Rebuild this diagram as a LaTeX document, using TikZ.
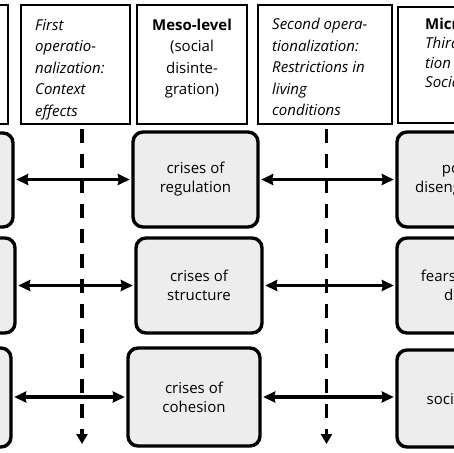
\documentclass[tikz,border=0pt]{standalone}
\usepackage{fontspec}
\setmainfont{Open Sans}
\usetikzlibrary{arrows.meta}
\newcommand{\headfont}{\fontsize{15}{21.5}\selectfont}
\newcommand{\microfont}{\fontsize{15}{19.5}\selectfont}
\newcommand{\rowfont}{\fontsize{15}{19}\selectfont}
\begin{document}
\begin{tikzpicture}[x=1pt,y=-1pt,
  hbox/.style={draw, line width=1.4pt, inner sep=0pt},
  rbox/.style={draw, line width=3.4pt, rounded corners=10pt, fill=black!7, inner sep=0pt, align=center, font=\rowfont},
  dbl/.style={line width=3.2pt, shorten <=1.5pt, shorten >=1.5pt,
    {Stealth[length=12pt,width=11pt,inset=1pt]}-{Stealth[length=12pt,width=11pt,inset=1pt]}},
  dsh/.style={line width=3.2pt, dash pattern=on 14pt off 11pt, -{Triangle[length=10pt,width=11pt]}},
  htext/.style={inner sep=0pt, font=\headfont}
]
\useasboundingbox (0,0) rectangle (453,453);
% header boxes
\node[hbox, minimum width=108pt, minimum height=119pt] (hA) at (-46,64.5) {};
\node[hbox, minimum width=109pt, minimum height=119pt] (hB) at (75.5,64.5) {};
\node[hbox, minimum width=110pt, minimum height=119pt] (hC) at (192,64.5) {};
\node[hbox, minimum width=134pt, minimum height=119pt] (hD) at (325,64.5) {};
\node[hbox, minimum width=142pt, minimum height=116pt] (hE) at (469,65) {};
% header texts (base anchor = baseline of the last line)
\node[htext, align=left, anchor=base west] (tB) at (35,116)
  {\itshape First\\\itshape operatio-\\\itshape nalization:\\\itshape Context\\\itshape effects};
\node[htext, align=center, anchor=base] (tC) at (192,94.5)
  {\bfseries Meso-level\\(social\\disinte-\\gration)};
\node[htext, align=left, anchor=base west] (tD) at (272,115.5)
  {\itshape Second opera-\\\itshape tionalization:\\\itshape Restrictions in\\\itshape living\\\itshape conditions};
\node[inner sep=0pt, font=\microfont, align=left, anchor=base west] (tE) at (425,87.5)
  {\bfseries Micro-level\\\itshape Third operationaliza-\\\itshape tion\\\itshape Social integration};
% row boxes
\node[rbox, minimum width=125pt, minimum height=94pt] (L1) at (-49.5,180) {};
\node[rbox, minimum width=125pt, minimum height=95pt] (M1) at (195.5,179.5) {crises of\\regulation};
\node[rbox, minimum width=144pt, minimum height=95pt] (R1) at (469,179.5) {political\\disengagement};
\node[rbox, minimum width=125pt, minimum height=95pt] (L2) at (-47.5,285.5) {};
\node[rbox, minimum width=126pt, minimum height=95pt] (M2) at (199,285.5) {crises of\\structure};
\node[rbox, minimum width=144pt, minimum height=95pt] (R2) at (469,285.5) {fears of social\\decline};
\node[rbox, minimum width=125pt, minimum height=99pt] (L3) at (-51.5,397.5) {};
\node[rbox, minimum width=132pt, minimum height=98pt] (M3) at (194,397) {crises of\\cohesion};
\node[rbox, minimum width=144pt, minimum height=97pt] (R3) at (469,398.5) {\hspace*{18pt}social isolation};
% dashed arrows
\coordinate (d1a) at (82,129);
\coordinate (d1b) at (82,444);
\coordinate (d2a) at (326.5,129);
\coordinate (d2b) at (326.5,444);
\draw[dsh] (d1a) -- (d1b);
\draw[dsh] (d2a) -- (d2b);
% horizontal arrows
\draw[dbl] (M1.west -| L1.east) -- (M1.west);
\draw[dbl] (M1.east) -- (M1.east -| R1.west);
\draw[dbl] (M2.west -| L2.east) -- (M2.west);
\draw[dbl] (M2.east) -- (M2.east -| R2.west);
\draw[dbl] (M3.west -| L3.east) -- (M3.west);
\draw[dbl] (M3.east) -- (M3.east -| R3.west);
\end{tikzpicture}
\end{document}
